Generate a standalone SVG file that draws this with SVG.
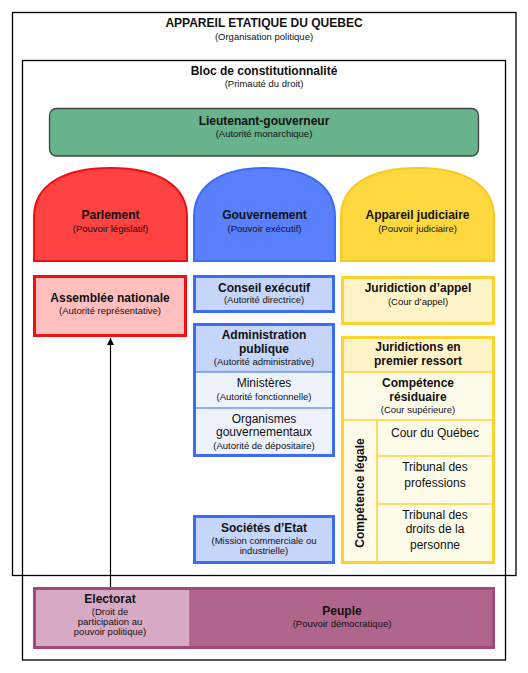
<svg xmlns="http://www.w3.org/2000/svg" width="528" height="673" viewBox="0 0 528 673">
<defs>
<style>
text{font-family:"Liberation Sans",Arial,sans-serif;fill:#111;text-anchor:middle}
.b{font-weight:bold;font-size:12px}
.s{font-size:9.5px}
.r{font-size:12px}
.frame{fill:none;stroke:#000;stroke-width:1.3}
.red{stroke:#ee1111;stroke-width:3}
.blue{stroke:#3b6cf5;stroke-width:3}
.yel{stroke:#ffd230;stroke-width:3}
.bdiv{stroke:#3b6cf5;stroke-width:1.2}
.ydiv{stroke:#ffd230;stroke-width:1.5}
</style>
<marker id="ah" viewBox="0 0 10 10" refX="10" refY="5" markerWidth="7" markerHeight="7" markerUnits="userSpaceOnUse" orient="auto">
<path d="M0,0 L10,5 L0,10 Z" fill="#000"/>
</marker>
</defs>
<rect width="528" height="673" fill="#fff"/>

<g id="appareil">
<rect class="frame" x="12.5" y="12.5" width="503.5" height="563"/>
<text class="b" x="264" y="27">APPAREIL ETATIQUE DU QUEBEC</text>
<text class="s" x="264" y="39.5">(Organisation politique)</text>
</g>

<g id="bloc">
<rect class="frame" x="22.5" y="60.5" width="483" height="599.5"/>
<text class="b" x="264" y="75">Bloc de constitutionnalité</text>
<text class="s" x="264" y="87">(Primauté du droit)</text>
</g>

<g id="lieutenant">
<rect x="49.5" y="108.5" width="429" height="47.5" rx="7" fill="#66b38c" stroke="#444" stroke-width="1.3"/>
<text class="b" x="264" y="124.5">Lieutenant-gouverneur</text>
<text class="s" x="264" y="136.5">(Autorité monarchique)</text>
</g>

<g id="parlement">
<path d="M34,261 V217 C34,186 62,168 110.5,168 C159,168 187,186 187,217 V261 Z" fill="#ff4242" stroke="#ee1111" stroke-width="2"/>
<text class="b" x="110.5" y="219">Parlement</text>
<text class="s" x="110.5" y="231.5">(Pouvoir législatif)</text>
</g>

<g id="gouvernement">
<path d="M194,261 V217 C194,186 220,168 264.5,168 C309,168 335,186 335,217 V261 Z" fill="#5a80ff" stroke="#3b6cf5" stroke-width="2"/>
<text class="b" x="264.5" y="219">Gouvernement</text>
<text class="s" x="264.5" y="231.5">(Pouvoir exécutif)</text>
</g>

<g id="judiciaire">
<path d="M341,261 V217 C341,186 369,168 417.5,168 C466,168 494,186 494,217 V261 Z" fill="#ffd83f" stroke="#f5cb20" stroke-width="2"/>
<text class="b" x="417.5" y="219">Appareil judiciaire</text>
<text class="s" x="417.5" y="231.5">(Pouvoir judiciaire)</text>
</g>

<g id="assemblee">
<rect class="red" x="34.5" y="276.5" width="151" height="59" fill="#ffbfbf"/>
<text class="b" x="110" y="302">Assemblée nationale</text>
<text class="s" x="110" y="313.5">(Autorité représentative)</text>
</g>

<g id="conseil">
<rect class="blue" x="194.5" y="276.5" width="139" height="35" fill="#c6d6fa"/>
<text class="b" x="264" y="292">Conseil exécutif</text>
<text class="s" x="264" y="302.5">(Autorité directrice)</text>
</g>

<g id="administration">
<rect x="194.5" y="324.5" width="139" height="131" fill="#eef2fb"/>
<rect x="194.5" y="324.5" width="139" height="47.5" fill="#c6d6fa"/>
<line class="bdiv" x1="194.5" y1="372" x2="333.5" y2="372"/>
<line class="bdiv" x1="194.5" y1="408" x2="333.5" y2="408"/>
<rect class="blue" x="194.5" y="324.5" width="139" height="131" fill="none"/>
<text class="b" x="264" y="339">Administration</text>
<text class="b" x="264" y="352.5">publique</text>
<text class="s" x="264" y="364.5">(Autorité administrative)</text>
<text class="r" x="264" y="387">Ministères</text>
<text class="s" x="264" y="400">(Autorité fonctionnelle)</text>
<text class="r" x="264" y="423">Organismes</text>
<text class="r" x="264" y="436">gouvernementaux</text>
<text class="s" x="264" y="448.5">(Autorité de dépositaire)</text>
</g>

<g id="societes">
<rect class="blue" x="194.5" y="516.5" width="139" height="46" fill="#c6d6fa"/>
<text class="b" x="264" y="532">Sociétés d’Etat</text>
<text class="s" x="264" y="543.5">(Mission commerciale ou</text>
<text class="s" x="264" y="554">industrielle)</text>
</g>

<g id="appel">
<rect class="yel" x="342.5" y="277.5" width="151" height="46" fill="#fff3c8"/>
<text class="b" x="418" y="292">Juridiction d’appel</text>
<text class="s" x="418" y="305">(Cour d’appel)</text>
</g>

<g id="premier-ressort">
<rect x="342.5" y="337.5" width="151" height="225" fill="#fffbe9"/>
<rect x="342.5" y="337.5" width="151" height="34.5" fill="#fff3c8"/>
<line class="ydiv" x1="342.5" y1="372" x2="493.5" y2="372"/>
<line class="ydiv" x1="342.5" y1="420" x2="493.5" y2="420"/>
<line class="ydiv" x1="377" y1="420" x2="377" y2="562.5"/>
<line class="ydiv" x1="377" y1="456" x2="493.5" y2="456"/>
<line class="ydiv" x1="377" y1="504" x2="493.5" y2="504"/>
<rect class="yel" x="342.5" y="337.5" width="151" height="225" fill="none"/>
<text class="b" x="418" y="351">Juridictions en</text>
<text class="b" x="418" y="365">premier ressort</text>
<text class="b" x="418" y="387">Compétence</text>
<text class="b" x="418" y="401">résiduaire</text>
<text class="s" x="418" y="413">(Cour supérieure)</text>
<text class="b" transform="translate(363.5,493) rotate(-90)" x="0" y="0">Compétence légale</text>
<text class="r" x="435" y="436.5">Cour du Québec</text>
<text class="r" x="435" y="471">Tribunal des</text>
<text class="r" x="435" y="486.5">professions</text>
<text class="r" x="435" y="518.5">Tribunal des</text>
<text class="r" x="435" y="533">droits de la</text>
<text class="r" x="435" y="548.5">personne</text>
</g>

<g id="peuple">
<rect x="34.5" y="588.5" width="155.5" height="59" fill="#d8a9c4"/>
<rect x="190" y="588.5" width="303.5" height="59" fill="#b0658c"/>
<line x1="190" y1="588.5" x2="190" y2="647.5" stroke="#9c4a78" stroke-width="1"/>
<rect x="34.5" y="588.5" width="459" height="59" fill="none" stroke="#a2497b" stroke-width="3"/>
<text class="b" x="110" y="603">Electorat</text>
<text class="s" x="110" y="614.5">(Droit de</text>
<text class="s" x="110" y="624.5">participation au</text>
<text class="s" x="110" y="634.5">pouvoir politique)</text>
<text class="b" x="342" y="615">Peuple</text>
<text class="s" x="342" y="626.5">(Pouvoir démocratique)</text>
</g>

<g id="connectors">
<line x1="110.5" y1="587" x2="110.5" y2="338" stroke="#000" stroke-width="1.2" marker-end="url(#ah)"/>
</g>
</svg>
